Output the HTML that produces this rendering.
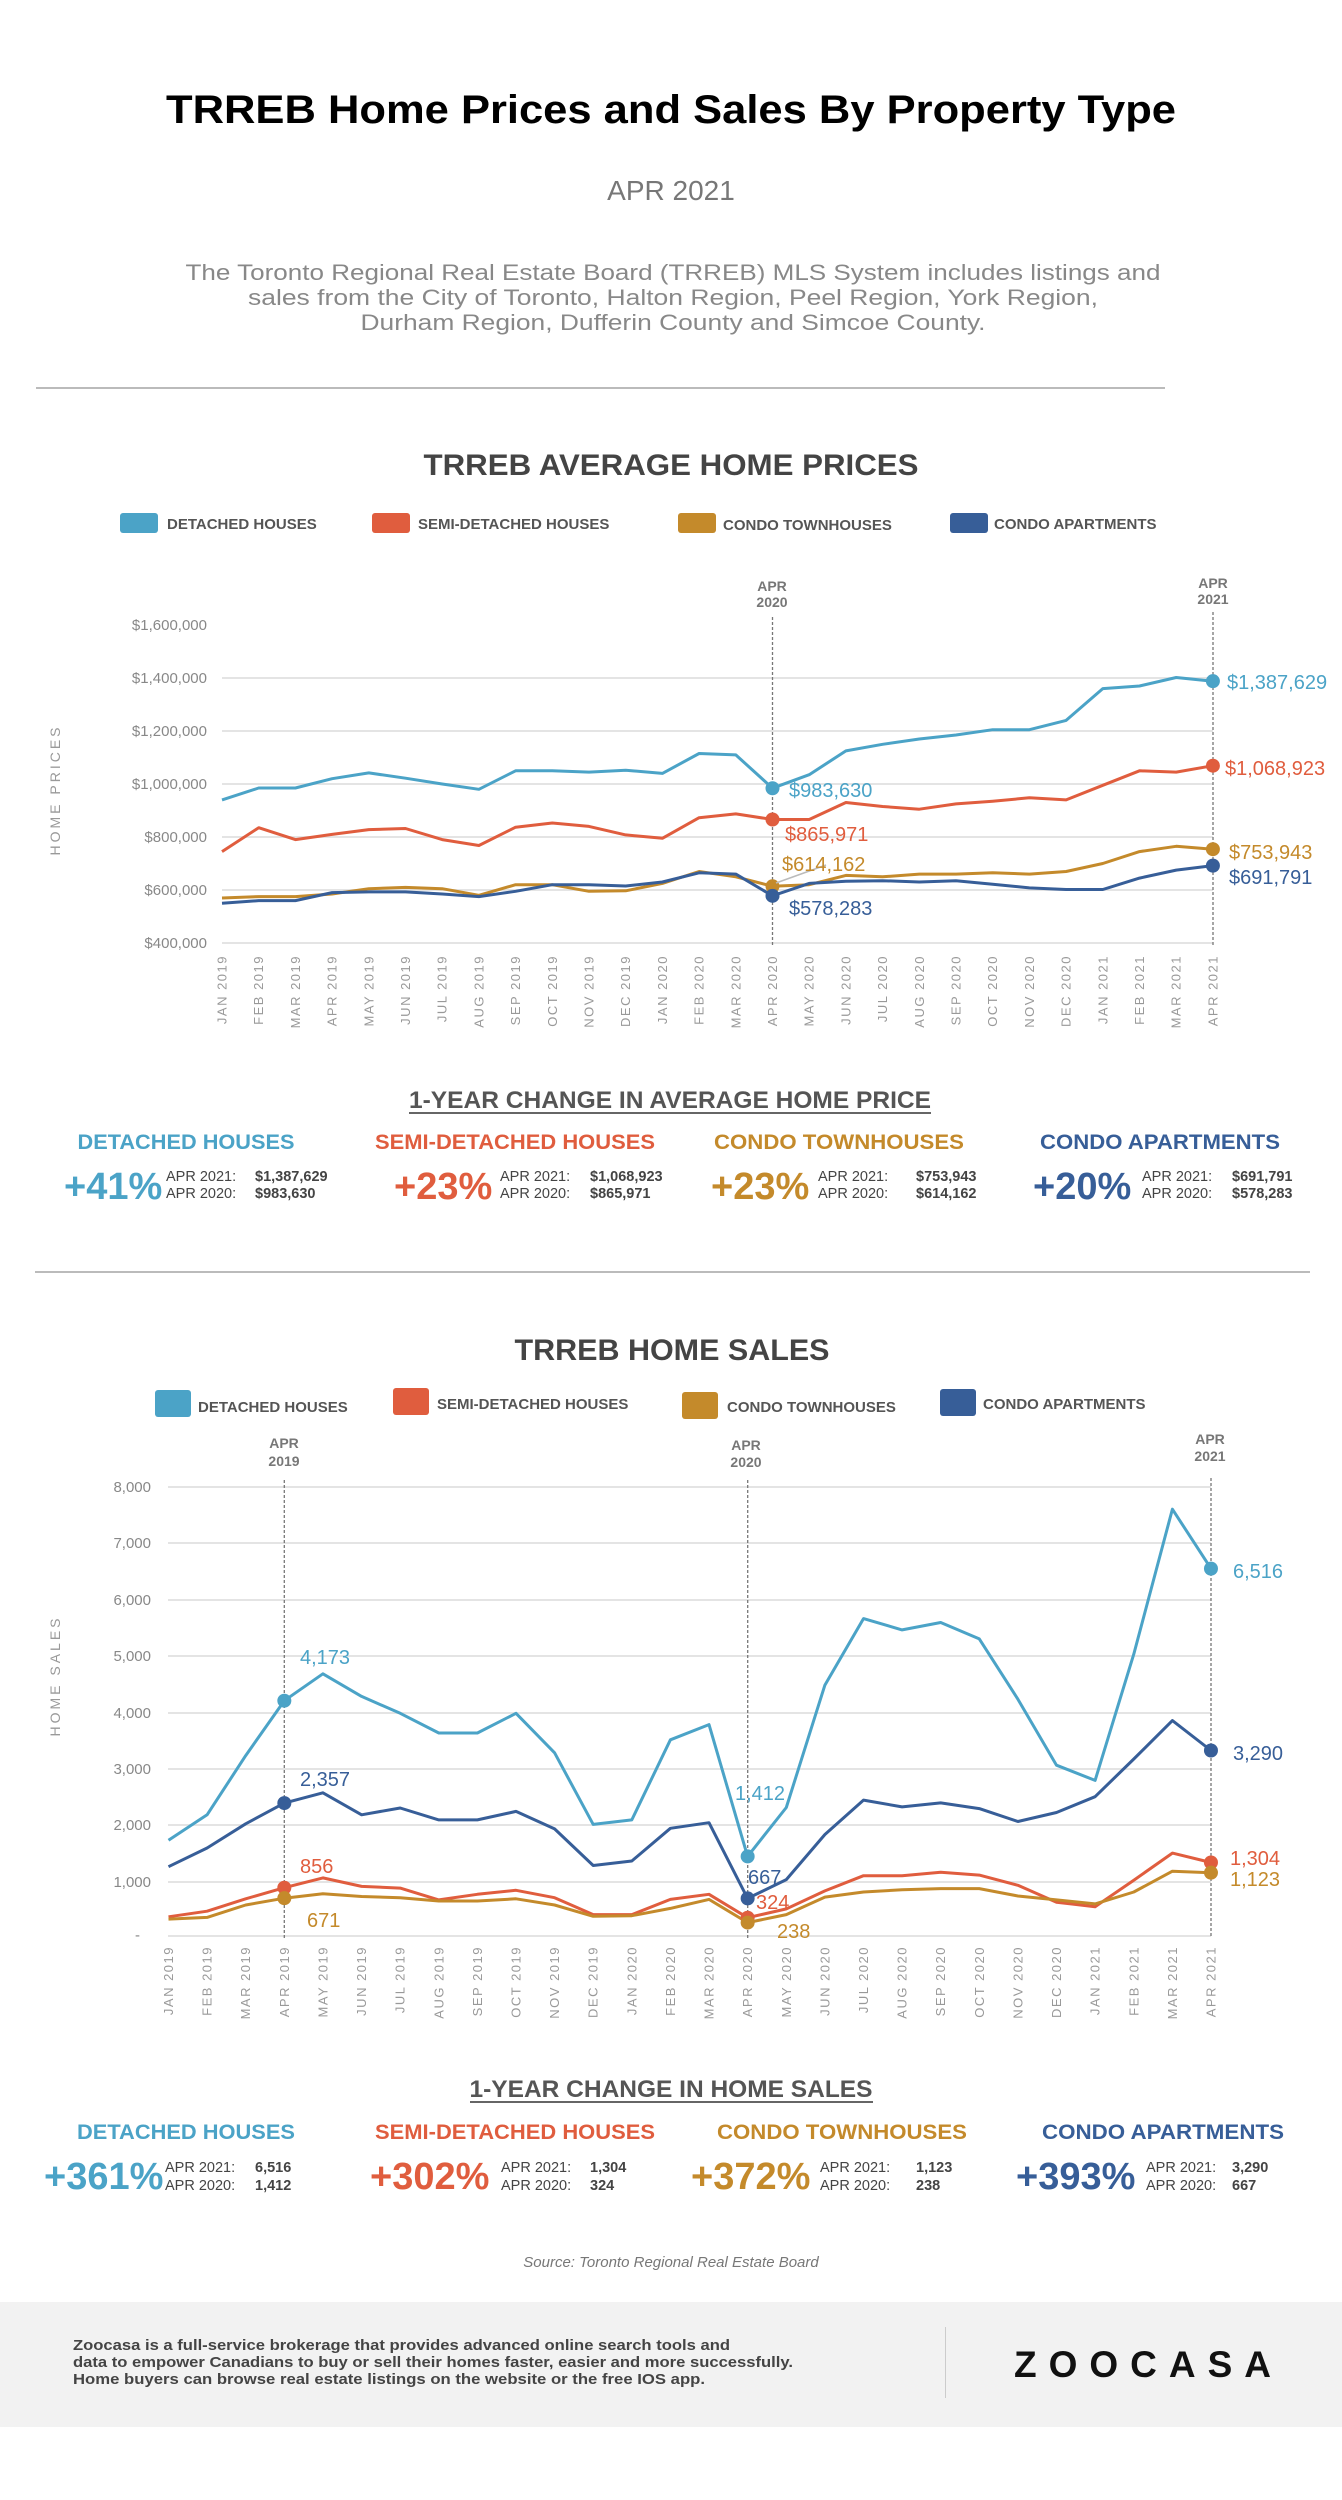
<!DOCTYPE html>
<html><head><meta charset="utf-8"><style>
html,body{margin:0;padding:0;background:#fff;}
svg{display:block;font-family:"Liberation Sans",sans-serif;}
.tk{font-size:13px;fill:#999;letter-spacing:1.5px;}
.yt{font-size:15px;fill:#888;}
.lg{font-size:15px;font-weight:bold;fill:#555;}
.sm{font-size:14.5px;fill:#444;}
.smb{font-size:14.5px;fill:#444;font-weight:bold;}
.an{font-size:14px;font-weight:bold;fill:#777;}
</style></head><body>
<svg width="1342" height="2500" viewBox="0 0 1342 2500" xmlns="http://www.w3.org/2000/svg">
<rect width="1342" height="2500" fill="#fff"/>
<text x="671" y="123" text-anchor="middle" font-size="40" font-weight="bold" fill="#000" textLength="1010" lengthAdjust="spacingAndGlyphs">TRREB Home Prices and Sales By Property Type</text>
<text x="671" y="200" text-anchor="middle" font-size="28" fill="#777">APR 2021</text>
<g font-size="22" fill="#888" text-anchor="middle">
<text x="673" y="280" textLength="975" lengthAdjust="spacingAndGlyphs">The Toronto Regional Real Estate Board (TRREB) MLS System includes listings and</text>
<text x="673" y="305" textLength="850" lengthAdjust="spacingAndGlyphs">sales from the City of Toronto, Halton Region, Peel Region, York Region,</text>
<text x="673" y="330" textLength="625" lengthAdjust="spacingAndGlyphs">Durham Region, Dufferin County and Simcoe County.</text>
</g>
<rect x="36" y="387" width="1129" height="2" fill="#bbb"/>
<text x="671" y="475" text-anchor="middle" font-size="30" font-weight="bold" fill="#444" textLength="495" lengthAdjust="spacingAndGlyphs">TRREB AVERAGE HOME PRICES</text>
<rect x="120" y="513" width="38" height="20" rx="3" fill="#4ba3c7"/><text class="lg" x="167" y="529">DETACHED HOUSES</text>
<rect x="372" y="513" width="38" height="20" rx="3" fill="#e05d3e"/><text class="lg" x="418" y="529">SEMI-DETACHED HOUSES</text>
<rect x="678" y="513" width="38" height="20" rx="3" fill="#c48a2b"/><text class="lg" x="723" y="530">CONDO TOWNHOUSES</text>
<rect x="950" y="513" width="38" height="20" rx="3" fill="#375e98"/><text class="lg" x="994" y="529">CONDO APARTMENTS</text>

<g stroke="#e4e4e4" stroke-width="2">
<line x1="222" x2="1213" y1="678" y2="678"/><line x1="222" x2="1213" y1="731" y2="731"/><line x1="222" x2="1213" y1="784" y2="784"/><line x1="222" x2="1213" y1="837" y2="837"/><line x1="222" x2="1213" y1="890" y2="890"/><line x1="222" x2="1213" y1="943" y2="943"/>
</g>
<g class="yt" text-anchor="end">
<text x="207" y="630">$1,600,000</text><text x="207" y="683">$1,400,000</text><text x="207" y="736">$1,200,000</text><text x="207" y="789">$1,000,000</text><text x="207" y="842">$800,000</text><text x="207" y="895">$600,000</text><text x="207" y="948">$400,000</text>
</g>
<text transform="translate(60,790) rotate(-90)" text-anchor="middle" font-size="14" fill="#999" letter-spacing="3">HOME PRICES</text>
<g stroke="#777" stroke-width="1.3" stroke-dasharray="3,2"><line x1="772.5" x2="772.5" y1="617" y2="945"/><line x1="1213" x2="1213" y1="612" y2="945"/></g>
<g class="an" text-anchor="middle"><text x="772" y="591">APR</text><text x="772" y="607">2020</text><text x="1213" y="588">APR</text><text x="1213" y="604">2021</text></g>
<g id="pl"></g>
<g class="tk" text-anchor="end" dominant-baseline="central">
<text transform="translate(222,955) rotate(-90)">JAN 2019</text>
<text transform="translate(258.7,955) rotate(-90)">FEB 2019</text>
<text transform="translate(295.4,955) rotate(-90)">MAR 2019</text>
<text transform="translate(332.1,955) rotate(-90)">APR 2019</text>
<text transform="translate(368.8,955) rotate(-90)">MAY 2019</text>
<text transform="translate(405.5,955) rotate(-90)">JUN 2019</text>
<text transform="translate(442.2,955) rotate(-90)">JUL 2019</text>
<text transform="translate(478.9,955) rotate(-90)">AUG 2019</text>
<text transform="translate(515.6,955) rotate(-90)">SEP 2019</text>
<text transform="translate(552.3,955) rotate(-90)">OCT 2019</text>
<text transform="translate(589,955) rotate(-90)">NOV 2019</text>
<text transform="translate(625.7,955) rotate(-90)">DEC 2019</text>
<text transform="translate(662.4,955) rotate(-90)">JAN 2020</text>
<text transform="translate(699.1,955) rotate(-90)">FEB 2020</text>
<text transform="translate(735.8,955) rotate(-90)">MAR 2020</text>
<text transform="translate(772.5,955) rotate(-90)">APR 2020</text>
<text transform="translate(809.2,955) rotate(-90)">MAY 2020</text>
<text transform="translate(845.9,955) rotate(-90)">JUN 2020</text>
<text transform="translate(882.6,955) rotate(-90)">JUL 2020</text>
<text transform="translate(919.3,955) rotate(-90)">AUG 2020</text>
<text transform="translate(956,955) rotate(-90)">SEP 2020</text>
<text transform="translate(992.7,955) rotate(-90)">OCT 2020</text>
<text transform="translate(1029.4,955) rotate(-90)">NOV 2020</text>
<text transform="translate(1066.1,955) rotate(-90)">DEC 2020</text>
<text transform="translate(1102.8,955) rotate(-90)">JAN 2021</text>
<text transform="translate(1139.5,955) rotate(-90)">FEB 2021</text>
<text transform="translate(1176.2,955) rotate(-90)">MAR 2021</text>
<text transform="translate(1212.9,955) rotate(-90)">APR 2021</text>
</g>
<line x1="776" y1="883" x2="826" y2="865" stroke="#bbb" stroke-width="1.5"/>
<g font-size="20">
<text x="1227" y="689" fill="#4ba3c7">$1,387,629</text>
<text x="1225" y="775" fill="#e05d3e">$1,068,923</text>
<text x="1229" y="859" fill="#c48a2b">$753,943</text>
<text x="1229" y="884" fill="#375e98">$691,791</text>
<text x="789" y="797" fill="#4ba3c7">$983,630</text>
<text x="785" y="841" fill="#e05d3e">$865,971</text>
<text x="782" y="871" fill="#c48a2b">$614,162</text>
<text x="789" y="915" fill="#375e98">$578,283</text>
</g>

<text x="670" y="1108" text-anchor="middle" font-size="24" font-weight="bold" fill="#555" textLength="522" lengthAdjust="spacingAndGlyphs">1-YEAR CHANGE IN AVERAGE HOME PRICE</text>
<rect x="409" y="1112" width="522" height="2" fill="#666"/>
<g font-size="21" font-weight="bold" text-anchor="middle">
<text x="186" y="1149" fill="#4ba3c7" textLength="217" lengthAdjust="spacingAndGlyphs">DETACHED HOUSES</text>
<text x="515" y="1149" fill="#e05d3e" textLength="280" lengthAdjust="spacingAndGlyphs">SEMI-DETACHED HOUSES</text>
<text x="839" y="1149" fill="#c48a2b" textLength="250" lengthAdjust="spacingAndGlyphs">CONDO TOWNHOUSES</text>
<text x="1160" y="1149" fill="#375e98" textLength="240" lengthAdjust="spacingAndGlyphs">CONDO APARTMENTS</text>
</g>
<g font-size="38" font-weight="bold">
<text x="64" y="1199" fill="#4ba3c7">+41%</text>
<text x="394" y="1199" fill="#e05d3e">+23%</text>
<text x="711" y="1199" fill="#c48a2b">+23%</text>
<text x="1033" y="1199" fill="#375e98">+20%</text>
</g>
<text class="sm" x="166" y="1181">APR 2021:</text><text class="sm" x="166" y="1198">APR 2020:</text>
<text class="smb" x="255" y="1181">$1,387,629</text><text class="smb" x="255" y="1198">$983,630</text>
<text class="sm" x="500" y="1181">APR 2021:</text><text class="sm" x="500" y="1198">APR 2020:</text>
<text class="smb" x="590" y="1181">$1,068,923</text><text class="smb" x="590" y="1198">$865,971</text>
<text class="sm" x="818" y="1181">APR 2021:</text><text class="sm" x="818" y="1198">APR 2020:</text>
<text class="smb" x="916" y="1181">$753,943</text><text class="smb" x="916" y="1198">$614,162</text>
<text class="sm" x="1142" y="1181">APR 2021:</text><text class="sm" x="1142" y="1198">APR 2020:</text>
<text class="smb" x="1232" y="1181">$691,791</text><text class="smb" x="1232" y="1198">$578,283</text>

<rect x="35" y="1271" width="1275" height="2" fill="#bbb"/>
<text x="672" y="1360" text-anchor="middle" font-size="30" font-weight="bold" fill="#444" textLength="315" lengthAdjust="spacingAndGlyphs">TRREB HOME SALES</text>
<rect x="155" y="1390" width="36" height="27" rx="3" fill="#4ba3c7"/><text class="lg" x="198" y="1412">DETACHED HOUSES</text>
<rect x="393" y="1388" width="36" height="27" rx="3" fill="#e05d3e"/><text class="lg" x="437" y="1409">SEMI-DETACHED HOUSES</text>
<rect x="682" y="1392" width="36" height="27" rx="3" fill="#c48a2b"/><text class="lg" x="727" y="1412">CONDO TOWNHOUSES</text>
<rect x="940" y="1389" width="36" height="27" rx="3" fill="#375e98"/><text class="lg" x="983" y="1409">CONDO APARTMENTS</text>

<g stroke="#e4e4e4" stroke-width="2">
<line x1="168" x2="1211" y1="1487" y2="1487"/><line x1="168" x2="1211" y1="1543" y2="1543"/><line x1="168" x2="1211" y1="1600" y2="1600"/><line x1="168" x2="1211" y1="1656" y2="1656"/><line x1="168" x2="1211" y1="1713" y2="1713"/><line x1="168" x2="1211" y1="1769" y2="1769"/><line x1="168" x2="1211" y1="1825" y2="1825"/><line x1="168" x2="1211" y1="1882" y2="1882"/><line x1="168" x2="1211" y1="1936" y2="1936"/>
</g>
<g class="yt" text-anchor="end">
<text x="151" y="1492">8,000</text><text x="151" y="1548">7,000</text><text x="151" y="1605">6,000</text><text x="151" y="1661">5,000</text><text x="151" y="1718">4,000</text><text x="151" y="1774">3,000</text><text x="151" y="1830">2,000</text><text x="151" y="1887">1,000</text><text x="140" y="1940">-</text>
</g>
<text transform="translate(60,1676) rotate(-90)" text-anchor="middle" font-size="14" fill="#999" letter-spacing="3">HOME SALES</text>
<g stroke="#777" stroke-width="1.3" stroke-dasharray="3,2"><line x1="284.3" x2="284.3" y1="1480" y2="1938"/><line x1="747.7" x2="747.7" y1="1480" y2="1938"/><line x1="1211" x2="1211" y1="1478" y2="1938"/></g>
<g class="an" text-anchor="middle"><text x="284" y="1448">APR</text><text x="284" y="1466">2019</text><text x="746" y="1450">APR</text><text x="746" y="1467">2020</text><text x="1210" y="1444">APR</text><text x="1210" y="1461">2021</text></g>
<g id="sl"></g>
<g class="tk" text-anchor="end" dominant-baseline="central">
<text transform="translate(168.5,1946) rotate(-90)">JAN 2019</text>
<text transform="translate(207.1,1946) rotate(-90)">FEB 2019</text>
<text transform="translate(245.7,1946) rotate(-90)">MAR 2019</text>
<text transform="translate(284.3,1946) rotate(-90)">APR 2019</text>
<text transform="translate(322.9,1946) rotate(-90)">MAY 2019</text>
<text transform="translate(361.6,1946) rotate(-90)">JUN 2019</text>
<text transform="translate(400.2,1946) rotate(-90)">JUL 2019</text>
<text transform="translate(438.8,1946) rotate(-90)">AUG 2019</text>
<text transform="translate(477.4,1946) rotate(-90)">SEP 2019</text>
<text transform="translate(516,1946) rotate(-90)">OCT 2019</text>
<text transform="translate(554.6,1946) rotate(-90)">NOV 2019</text>
<text transform="translate(593.2,1946) rotate(-90)">DEC 2019</text>
<text transform="translate(631.8,1946) rotate(-90)">JAN 2020</text>
<text transform="translate(670.4,1946) rotate(-90)">FEB 2020</text>
<text transform="translate(709,1946) rotate(-90)">MAR 2020</text>
<text transform="translate(747.7,1946) rotate(-90)">APR 2020</text>
<text transform="translate(786.3,1946) rotate(-90)">MAY 2020</text>
<text transform="translate(824.9,1946) rotate(-90)">JUN 2020</text>
<text transform="translate(863.5,1946) rotate(-90)">JUL 2020</text>
<text transform="translate(902.1,1946) rotate(-90)">AUG 2020</text>
<text transform="translate(940.7,1946) rotate(-90)">SEP 2020</text>
<text transform="translate(979.3,1946) rotate(-90)">OCT 2020</text>
<text transform="translate(1017.9,1946) rotate(-90)">NOV 2020</text>
<text transform="translate(1056.5,1946) rotate(-90)">DEC 2020</text>
<text transform="translate(1095.1,1946) rotate(-90)">JAN 2021</text>
<text transform="translate(1133.8,1946) rotate(-90)">FEB 2021</text>
<text transform="translate(1172.4,1946) rotate(-90)">MAR 2021</text>
<text transform="translate(1211,1946) rotate(-90)">APR 2021</text>
</g>
<g font-size="20">
<text x="300" y="1664" fill="#4ba3c7">4,173</text>
<text x="300" y="1786" fill="#375e98">2,357</text>
<text x="300" y="1873" fill="#e05d3e">856</text>
<text x="307" y="1927" fill="#c48a2b">671</text>
<text x="735" y="1800" fill="#4ba3c7">1,412</text>
<text x="748" y="1884" fill="#375e98">667</text>
<text x="756" y="1909" fill="#e05d3e">324</text>
<text x="777" y="1938" fill="#c48a2b">238</text>
<text x="1233" y="1578" fill="#4ba3c7">6,516</text>
<text x="1233" y="1760" fill="#375e98">3,290</text>
<text x="1230" y="1865" fill="#e05d3e">1,304</text>
<text x="1230" y="1886" fill="#c48a2b">1,123</text>
</g>

<text x="671" y="2097" text-anchor="middle" font-size="24" font-weight="bold" fill="#555" textLength="403" lengthAdjust="spacingAndGlyphs">1-YEAR CHANGE IN HOME SALES</text>
<rect x="470" y="2101" width="403" height="2" fill="#666"/>
<g font-size="21" font-weight="bold" text-anchor="middle">
<text x="186" y="2139" fill="#4ba3c7" textLength="218" lengthAdjust="spacingAndGlyphs">DETACHED HOUSES</text>
<text x="515" y="2139" fill="#e05d3e" textLength="280" lengthAdjust="spacingAndGlyphs">SEMI-DETACHED HOUSES</text>
<text x="842" y="2139" fill="#c48a2b" textLength="250" lengthAdjust="spacingAndGlyphs">CONDO TOWNHOUSES</text>
<text x="1163" y="2139" fill="#375e98" textLength="242" lengthAdjust="spacingAndGlyphs">CONDO APARTMENTS</text>
</g>
<g font-size="38" font-weight="bold">
<text x="44" y="2189" fill="#4ba3c7">+361%</text>
<text x="370" y="2189" fill="#e05d3e">+302%</text>
<text x="691" y="2189" fill="#c48a2b">+372%</text>
<text x="1016" y="2189" fill="#375e98">+393%</text>
</g>
<text class="sm" x="165" y="2172">APR 2021:</text><text class="sm" x="165" y="2190">APR 2020:</text>
<text class="smb" x="255" y="2172">6,516</text><text class="smb" x="255" y="2190">1,412</text>
<text class="sm" x="501" y="2172">APR 2021:</text><text class="sm" x="501" y="2190">APR 2020:</text>
<text class="smb" x="590" y="2172">1,304</text><text class="smb" x="590" y="2190">324</text>
<text class="sm" x="820" y="2172">APR 2021:</text><text class="sm" x="820" y="2190">APR 2020:</text>
<text class="smb" x="916" y="2172">1,123</text><text class="smb" x="916" y="2190">238</text>
<text class="sm" x="1146" y="2172">APR 2021:</text><text class="sm" x="1146" y="2190">APR 2020:</text>
<text class="smb" x="1232" y="2172">3,290</text><text class="smb" x="1232" y="2190">667</text>

<text x="671" y="2267" text-anchor="middle" font-size="15" font-style="italic" fill="#777">Source: Toronto Regional Real Estate Board</text>

<rect x="0" y="2302" width="1342" height="125" fill="#f2f2f2"/>
<g font-size="15" font-weight="bold" fill="#444">
<text x="73" y="2350" textLength="657" lengthAdjust="spacingAndGlyphs">Zoocasa is a full-service brokerage that provides advanced online search tools and</text>
<text x="73" y="2367" textLength="720" lengthAdjust="spacingAndGlyphs">data to empower Canadians to buy or sell their homes faster, easier and more successfully.</text>
<text x="73" y="2384" textLength="632" lengthAdjust="spacingAndGlyphs">Home buyers can browse real estate listings on the website or the free IOS app.</text>
</g>
<rect x="945" y="2327" width="1" height="71" fill="#ccc"/>
<text x="1014" y="2377" font-size="37" font-weight="bold" fill="#111" textLength="263" letter-spacing="6">ZOOCASA</text>

<script>
(function(){
var NS="http://www.w3.org/2000/svg";
function draw(gid,x0,dx,fy,series,marks){
 var g=document.getElementById(gid);
 series.forEach(function(s){
  var pts=s.d.map(function(v,i){return (x0+dx*i).toFixed(1)+","+fy(v).toFixed(1);}).join(" ");
  var p=document.createElementNS(NS,"polyline");
  p.setAttribute("points",pts);p.setAttribute("fill","none");p.setAttribute("stroke",s.c);
  p.setAttribute("stroke-width","3");p.setAttribute("stroke-linejoin","round");
  g.appendChild(p);
 });
 series.forEach(function(s){
  marks.forEach(function(i){
   var c=document.createElementNS(NS,"circle");
   c.setAttribute("cx",x0+dx*i);c.setAttribute("cy",fy(s.d[i]));c.setAttribute("r","7");c.setAttribute("fill",s.c);
   g.appendChild(c);
  });
 });
}
var C=["#4ba3c7","#e05d3e","#c48a2b","#375e98"];
draw("pl",222,36.7,function(v){return 943-(v-400)*0.265;},[
 {c:C[0],d:[940,985,985,1020,1042,1022,1000,980,1050,1050,1045,1052,1040,1115,1110,984,1035,1125,1150,1170,1185,1205,1205,1240,1360,1370,1402,1388]},
 {c:C[1],d:[745,835,790,810,828,832,790,768,837,853,840,808,795,873,887,866,866,930,915,905,925,935,948,940,995,1050,1045,1069]},
 {c:C[2],d:[570,575,575,585,605,610,605,580,620,620,595,597,625,670,650,614,620,655,650,660,660,665,660,670,700,745,765,754]},
 {c:C[3],d:[550,560,560,590,593,593,585,575,595,620,620,615,630,665,660,578,625,633,635,630,635,622,608,602,602,645,675,692]}
],[15,27]);
draw("sl",168.5,38.61,function(v){return 1936-v*0.05638;},[
 {c:C[0],d:[1700,2150,3200,4173,4650,4250,3950,3600,3600,3950,3250,1980,2060,3480,3750,1412,2280,4450,5630,5430,5560,5270,4200,3030,2760,5000,7570,6516]},
 {c:C[3],d:[1230,1560,1990,2357,2540,2150,2270,2060,2060,2210,1900,1250,1330,1910,2010,667,1000,1800,2410,2290,2360,2260,2030,2190,2470,3140,3820,3290]},
 {c:C[1],d:[340,440,660,856,1030,880,850,640,740,810,680,380,380,650,740,324,480,800,1070,1070,1130,1080,900,600,520,990,1470,1304]},
 {c:C[2],d:[300,330,550,671,750,700,680,620,620,660,550,350,360,490,650,238,380,690,780,820,840,840,710,640,570,780,1150,1123]}
],[3,15,27]);
})();
</script>
</svg>
</body></html>
